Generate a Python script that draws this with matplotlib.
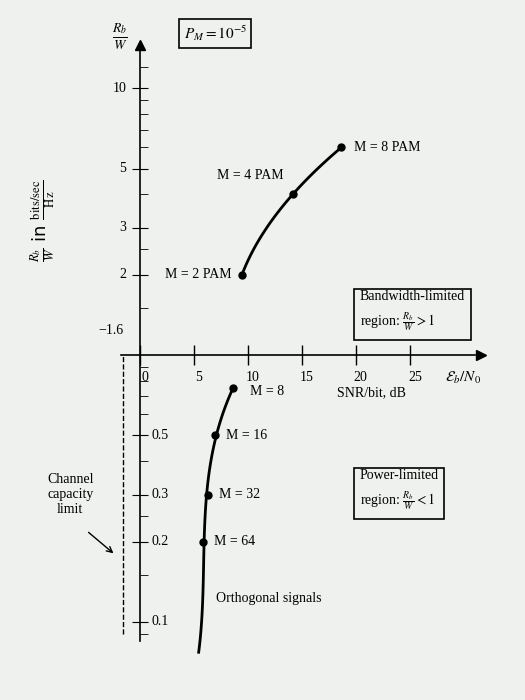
import numpy as np
import matplotlib
matplotlib.use("Agg")
import matplotlib.pyplot as plt
from matplotlib.ticker import NullFormatter, FixedLocator

plt.rcParams["mathtext.fontset"] = "stix"

# data
pam_labels = ["M = 2 PAM", "M = 4 PAM", "M = 8 PAM"]
pam_snr = [9.4, 14.1, 18.6]
pam_rate = [2.0, 4.0, 6.0]
orth_labels = ["M = 8", "M = 16", "M = 32", "M = 64"]
orth_snr = [8.6, 6.9, 6.3, 5.8]
orth_rate = [0.75, 0.5, 0.3, 0.2]
orth_tail_snr = [5.4]
orth_tail_rate = [0.077]
x_ticks = [0, 5, 10, 15, 20, 25]
y_ticks_upper = [10, 5, 3, 2]
y_ticks_lower = [0.5, 0.3, 0.2, 0.1]
y_minor = [0.09, 0.15, 0.25, 0.4, 0.6, 0.7, 0.8, 0.9, 1.5, 2.5, 4, 6, 7, 8, 9, 12]
shannon_limit = -1.6

fig = plt.figure(figsize=(5.25, 7.0), dpi=100, facecolor="#f3f2ea")
ax = fig.add_axes([0, 0, 1, 1])
ax.set_facecolor("#eef1ee")
ax.set_yscale("log")
ax.set_xlim(-13.0, 35.6)
ax.set_ylim(0.051, 21.4)
for s in ["top", "right"]:
    ax.spines[s].set_visible(False)
ax.spines["left"].set_position(("data", 0))
ax.spines["bottom"].set_position(("data", 1))
ax.spines["left"].set_bounds(0.085, 14)
ax.spines["bottom"].set_bounds(-1.8, 31)
ax.spines["left"].set_linewidth(1.2)
ax.spines["bottom"].set_linewidth(1.2)
ax.plot(31.5, 1, marker=">", color="k", ms=7, clip_on=False)
ax.plot(0, 14.5, marker="^", color="k", ms=7, clip_on=False)

ax.set_xticks(x_ticks)
ax.set_xticklabels([])
ax.tick_params(axis="x", which="major", direction="inout", length=14, width=1)
ax.yaxis.set_major_locator(FixedLocator(y_ticks_upper + y_ticks_lower))
ax.yaxis.set_minor_locator(FixedLocator(y_minor))
ax.yaxis.set_major_formatter(NullFormatter())
ax.yaxis.set_minor_formatter(NullFormatter())
ax.tick_params(axis="y", which="major", direction="inout", length=12)
ax.tick_params(axis="y", which="minor", direction="in", length=6)
tf = dict(fontsize=10, family="Liberation Serif")
for t in x_ticks:
    ax.text(t + 0.4, 0.87, str(t), ha="center", va="top", **tf)
for v in y_ticks_upper:
    ax.text(-1.3, v, str(v), ha="right", va="center", **tf)
for v in y_ticks_lower:
    ax.text(1.0, v, str(v), ha="left", va="center", **tf)

# curves
xs = np.array(pam_snr); ys = np.log10(pam_rate)
c = np.polyfit(ys, xs, 2)
yy = np.linspace(ys[0], ys[-1], 80)
ax.plot(np.polyval(c, yy), 10**yy, color="k", lw=2)
ax.plot(pam_snr, pam_rate, "o", color="k", ms=5)
ox = np.array(orth_snr + orth_tail_snr); oy = np.log10(orth_rate + orth_tail_rate)
c2 = np.polyfit(oy, ox, 3)
yy2 = np.linspace(oy[-1], oy[0], 100)
ax.plot(np.polyval(c2, yy2), 10**yy2, color="k", lw=2)
ax.plot(orth_snr, orth_rate, "o", color="k", ms=5)

ax.text(pam_snr[0] - 1.0, pam_rate[0], pam_labels[0], ha="right", va="center", **tf)
ax.text(pam_snr[1] - 0.8, pam_rate[1] * 1.18, pam_labels[1], ha="right", va="center", **tf)
ax.text(pam_snr[2] + 1.2, pam_rate[2], pam_labels[2], ha="left", va="center", **tf)
ax.text(orth_snr[0] + 1.5, 0.73, orth_labels[0], ha="left", va="center", **tf)
for i in range(1, 4):
    ax.text(orth_snr[i] + 1.0, orth_rate[i], orth_labels[i], ha="left", va="center", **tf)
ax.text(7.0, 0.122, "Orthogonal signals", ha="left", va="center", **tf)
ax.text(18.2, 0.72, "SNR/bit, dB", ha="left", va="center", **tf)
ax.text(31.5, 0.88, r"$\mathcal{E}_b/N_0$", ha="right", va="top", fontsize=11)

# channel capacity limit
ax.plot([shannon_limit, shannon_limit], [0.09, 1], "k--", lw=1)
ax.text(shannon_limit, 1.17, "−1.6", ha="right", va="bottom", **tf)
ax.text(-6.5, 0.3, "Channel\ncapacity\nlimit", ha="center", va="center", **tf)
ax.annotate("", xy=(-2.3, 0.178), xytext=(-5.0, 0.22),
            arrowprops=dict(arrowstyle="->", color="k", lw=1))

ax.text(-1.2, 15.5, r"$\frac{R_b}{W}$", ha="right", va="center", fontsize=14)
ax.text(-9.0, 3.2, r"$\frac{R_b}{W}$ in $\frac{\mathrm{bits/sec}}{\mathrm{Hz}}$",
        rotation=90, ha="center", va="center", fontsize=13)
ax.text(4.0, 16.0, r"$P_M = 10^{-5}$", ha="left", va="center", fontsize=11,
        bbox=dict(boxstyle="square,pad=0.3", fc="none", ec="k", lw=1.2))
ax.text(20.3, 1.45, "Bandwidth-limited\nregion: $\\frac{R_b}{W} > 1$", ha="left", va="center",
        linespacing=1.5, bbox=dict(boxstyle="square,pad=0.4", fc="none", ec="k", lw=1.2), **tf)
ax.text(20.3, 0.31, "Power-limited\nregion: $\\frac{R_b}{W} < 1$", ha="left", va="center",
        linespacing=1.5, bbox=dict(boxstyle="square,pad=0.4", fc="none", ec="k", lw=1.2), **tf)

fig.savefig("out.png", dpi=100, facecolor=fig.get_facecolor())
